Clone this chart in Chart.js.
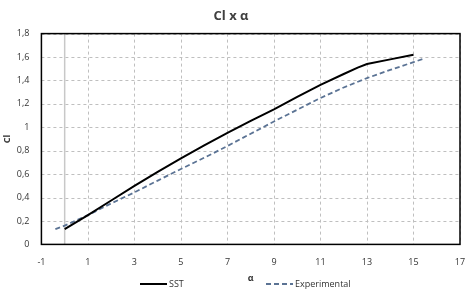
<!DOCTYPE html>
<html>
<head>
<meta charset="utf-8">
<script src="https://cdn.jsdelivr.net/npm/chart.js@4/dist/chart.umd.min.js"></script>
<style>
  html, body { margin: 0; padding: 0; background: #fff; }
  #wrap { width: 474px; height: 297px; position: relative; }
</style>
</head>
<body>
<div id="wrap"><canvas id="clChart"></canvas></div>
<script>
/* Cl x alpha — SST vs experimental */

const SST_ALPHA = [0, 1, 2, 3, 4, 5, 6, 7, 8, 9, 10, 11, 12, 12.6, 13, 14, 15];
const SST_CL    = [0.13, 0.25, 0.375, 0.50, 0.62, 0.735, 0.845, 0.953, 1.055, 1.153, 1.26, 1.362, 1.455, 1.51, 1.54, 1.58, 1.62];

const EXP_ALPHA = [-0.4, 0, 1, 2, 3, 4, 5, 6, 7, 8, 9, 10, 11, 12, 13, 14, 15, 15.5];
const EXP_CL    = [0.13, 0.16, 0.25, 0.35, 0.444, 0.545, 0.644, 0.74, 0.84, 0.945, 1.05, 1.15, 1.25, 1.34, 1.42, 1.49, 1.556, 1.59];

const X_TICKS = [-1, 1, 3, 5, 7, 9, 11, 13, 15, 17];
const Y_TICKS = [0, 0.2, 0.4, 0.6, 0.8, 1, 1.2, 1.4, 1.6, 1.8];

const TICK_COLOR = '#333333';
const GRID_COLOR = '#bfbfbf';
const FONT = '"Open Sans", "Liberation Sans", sans-serif';

const toPts = (xs, ys) => xs.map((x, i) => ({ x, y: ys[i] }));
const fmtComma = v => String(Number(v.toFixed(1))).replace('.', ',');

/* dashed grid, plot frame and the grey zero line */
const framePlugin = {
  id: 'frame',
  beforeDatasetsDraw(chart) {
    const { ctx, chartArea: a, scales } = chart;
    ctx.save();
    ctx.strokeStyle = GRID_COLOR;
    ctx.lineWidth = 1;
    ctx.setLineDash([3, 3]);
    ctx.beginPath();
    X_TICKS.forEach(v => {
      const px = Math.round(scales.x.getPixelForValue(v)) + 0.5;
      ctx.moveTo(px, a.top);
      ctx.lineTo(px, a.bottom);
    });
    Y_TICKS.forEach(v => {
      const py = Math.round(scales.y.getPixelForValue(v)) + 0.5;
      ctx.moveTo(a.left, py);
      ctx.lineTo(a.right, py);
    });
    ctx.stroke();
    ctx.setLineDash([]);
    const x0 = scales.x.getPixelForValue(0);
    ctx.strokeStyle = '#c8c8c8';
    ctx.lineWidth = 1.5;
    ctx.beginPath();
    ctx.moveTo(x0, a.top);
    ctx.lineTo(x0, a.bottom);
    ctx.stroke();
    ctx.restore();
  },
  afterDraw(chart) {
    const { ctx, chartArea: a } = chart;
    ctx.save();
    ctx.strokeStyle = '#000';
    ctx.lineWidth = 1.5;
    ctx.strokeRect(a.left, a.top, a.right - a.left, a.bottom - a.top);
    ctx.restore();
  },
};

/* bottom legend, spaced like the original */
const legendPlugin = {
  id: 'spreadLegend',
  afterDraw(chart) {
    const { ctx } = chart;
    const y = 284;
    const items = [{ ds: 0, x: 140 }, { ds: 1, x: 266 }];
    ctx.save();
    ctx.font = '9px ' + FONT;
    ctx.textBaseline = 'middle';
    items.forEach(it => {
      const d = chart.data.datasets[it.ds];
      ctx.strokeStyle = d.borderColor;
      ctx.lineWidth = d.borderWidth;
      ctx.setLineDash(d.borderDash || []);
      ctx.beginPath();
      ctx.moveTo(it.x, y);
      ctx.lineTo(it.x + 27, y);
      ctx.stroke();
      ctx.setLineDash([]);
      ctx.fillStyle = TICK_COLOR;
      ctx.fillText(d.label, it.x + 29, y);
    });
    ctx.restore();
  },
};

new Chart(document.getElementById('clChart'), {
  type: 'scatter',
  data: {
    datasets: [
      {
        label: 'SST',
        data: toPts(SST_ALPHA, SST_CL),
        showLine: true,
        borderColor: '#000000',
        borderWidth: 2,
        pointRadius: 0,
        tension: 0,
      },
      {
        label: 'Experimental',
        data: toPts(EXP_ALPHA, EXP_CL),
        showLine: true,
        borderColor: '#5b7394',
        borderWidth: 1.8,
        borderDash: [5, 3],
        pointRadius: 0,
        tension: 0,
      },
    ],
  },
  options: {
    responsive: true,
    maintainAspectRatio: false,
    animation: false,
    layout: { padding: { left: 2, right: 14, top: 0, bottom: 13 } },
    plugins: {
      legend: { display: false },
      tooltip: { enabled: false },
      title: {
        display: true,
        text: 'Cl x α',
        color: '#404040',
        font: { family: FONT, size: 13, weight: 'bold' },
        padding: { top: 8, bottom: 10 },
      },
    },
    scales: {
      x: {
        type: 'linear',
        min: -1, max: 17,
        afterBuildTicks: s => { s.ticks = X_TICKS.map(value => ({ value })); },
        ticks: { color: TICK_COLOR, font: { family: FONT, size: 9 }, padding: 5 },
        grid: { display: false },
        border: { display: false },
        title: { display: true, text: 'α', color: TICK_COLOR, font: { family: FONT, size: 9, weight: 'bold' }, padding: { top: 0, bottom: 0 } },
      },
      y: {
        min: 0, max: 1.8,
        afterBuildTicks: s => { s.ticks = Y_TICKS.map(value => ({ value })); },
        ticks: { color: TICK_COLOR, font: { family: FONT, size: 9 }, padding: 4, callback: v => fmtComma(v) },
        grid: { display: false },
        border: { display: false },
        title: { display: true, text: 'Cl', color: TICK_COLOR, font: { family: FONT, size: 9, weight: 'bold' }, padding: { top: 0, bottom: 0 } },
      },
    },
  },
  plugins: [framePlugin, legendPlugin],
});
</script>
</body>
</html>
